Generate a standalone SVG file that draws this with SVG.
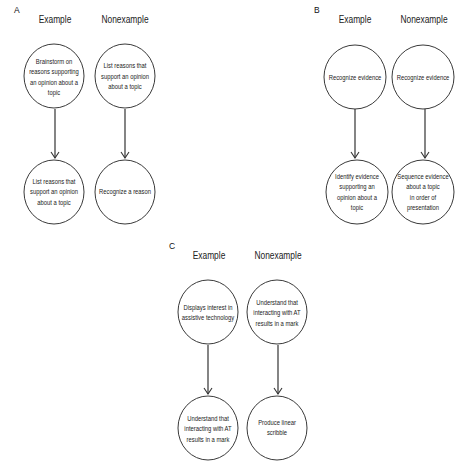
<svg xmlns="http://www.w3.org/2000/svg" width="474" height="474" viewBox="0 0 474 474">
<defs>
<style>
.bg{fill:#fff}
.node ellipse{fill:#fff;stroke:#3a3a3a;stroke-width:1}
.node text{font-family:"Liberation Sans",Arial,sans-serif;font-size:7.5px;fill:#222;text-anchor:middle}
.hdr{font-family:"Liberation Sans",Arial,sans-serif;font-size:10.5px;fill:#222;text-anchor:middle}
.lbl{font-family:"Liberation Sans",Arial,sans-serif;font-size:8.5px;fill:#111}
.conn line{stroke:#333;stroke-width:1.2}
.conn path{fill:none;stroke:#333;stroke-width:1.1}
</style>
</defs>
<rect class="bg" x="0" y="0" width="474" height="474"/>

<!-- Panel labels and headers -->
<g id="panel-labels">
<text class="lbl" x="14" y="12.5">A</text>
<text class="lbl" x="314" y="12.5">B</text>
<text class="lbl" x="169" y="248.5">C</text>
<text class="hdr" transform="translate(55 23) scale(0.8 1)">Example</text>
<text class="hdr" transform="translate(125 23) scale(0.8 1)">Nonexample</text>
<text class="hdr" transform="translate(355 23) scale(0.8 1)">Example</text>
<text class="hdr" transform="translate(424 23) scale(0.8 1)">Nonexample</text>
<text class="hdr" transform="translate(209 259) scale(0.8 1)">Example</text>
<text class="hdr" transform="translate(278 259) scale(0.8 1)">Nonexample</text>
</g>

<!-- Connectors -->
<g id="connectors" class="conn">
<line x1="55" y1="109" x2="55" y2="158"/><path d="M51 152 L55 158 L59 152"/>
<line x1="125" y1="109" x2="125" y2="158"/><path d="M121 152 L125 158 L129 152"/>
<line x1="355" y1="109" x2="355" y2="158"/><path d="M351 152 L355 158 L359 152"/>
<line x1="425" y1="109" x2="425" y2="158"/><path d="M421 152 L425 158 L429 152"/>
<line x1="208" y1="345" x2="208" y2="394"/><path d="M204 388 L208 394 L212 388"/>
<line x1="278" y1="345" x2="278" y2="394"/><path d="M274 388 L278 394 L282 388"/>
</g>

<!-- Panel A -->
<g id="a-ex-1" class="node">
<ellipse cx="54" cy="76" rx="30" ry="32"/>
<g transform="translate(54 0) scale(0.78 1)">
<text x="0" y="64">Brainstorm on</text>
<text x="0" y="74.3">reasons supporting</text>
<text x="0" y="84.6">an opinion about a</text>
<text x="0" y="94.9">topic</text>
</g>
</g>
<g id="a-non-1" class="node">
<ellipse cx="125" cy="76" rx="30" ry="32"/>
<g transform="translate(125 0) scale(0.78 1)">
<text x="0" y="68.5">List reasons that</text>
<text x="0" y="78.8">support an opinion</text>
<text x="0" y="89.1">about a topic</text>
</g>
</g>
<g id="a-ex-2" class="node">
<ellipse cx="54" cy="192" rx="30" ry="32"/>
<g transform="translate(54 0) scale(0.78 1)">
<text x="0" y="184">List reasons that</text>
<text x="0" y="194.3">support an opinion</text>
<text x="0" y="204.6">about a topic</text>
</g>
</g>
<g id="a-non-2" class="node">
<ellipse cx="125" cy="192" rx="30" ry="32"/>
<g transform="translate(125 0) scale(0.78 1)">
<text x="0" y="194.5">Recognize a reason</text>
</g>
</g>

<!-- Panel B -->
<g id="b-ex-1" class="node">
<ellipse cx="355" cy="77" rx="31" ry="32"/>
<g transform="translate(355 0) scale(0.78 1)">
<text x="0" y="80">Recognize evidence</text>
</g>
</g>
<g id="b-non-1" class="node">
<ellipse cx="423" cy="77" rx="31" ry="32"/>
<g transform="translate(423 0) scale(0.78 1)">
<text x="0" y="80">Recognize evidence</text>
</g>
</g>
<g id="b-ex-2" class="node">
<ellipse cx="357" cy="192" rx="31" ry="32"/>
<g transform="translate(357 0) scale(0.78 1)">
<text x="0" y="179">Identify evidence</text>
<text x="0" y="189.3">supporting an</text>
<text x="0" y="199.6">opinion about a</text>
<text x="0" y="209.9">topic</text>
</g>
</g>
<g id="b-non-2" class="node">
<ellipse cx="423" cy="192" rx="31" ry="32"/>
<g transform="translate(423 0) scale(0.78 1)">
<text x="0" y="179">Sequence evidence</text>
<text x="0" y="189.3">about a topic</text>
<text x="0" y="199.6">in order of</text>
<text x="0" y="209.9">presentation</text>
</g>
</g>

<!-- Panel C -->
<g id="c-ex-1" class="node">
<ellipse cx="208" cy="312" rx="30" ry="32"/>
<g transform="translate(208 0) scale(0.78 1)">
<text x="0" y="310">Displays interest in</text>
<text x="0" y="320.3">assistive technology</text>
</g>
</g>
<g id="c-non-1" class="node">
<ellipse cx="277" cy="312" rx="30" ry="32"/>
<g transform="translate(277 0) scale(0.78 1)">
<text x="0" y="305">Understand that</text>
<text x="0" y="315.3">interacting with AT</text>
<text x="0" y="325.6">results in a mark</text>
</g>
</g>
<g id="c-ex-2" class="node">
<ellipse cx="208" cy="428" rx="30" ry="32"/>
<g transform="translate(208 0) scale(0.78 1)">
<text x="0" y="421">Understand that</text>
<text x="0" y="431.3">interacting with AT</text>
<text x="0" y="441.6">results in a mark</text>
</g>
</g>
<g id="c-non-2" class="node">
<ellipse cx="277" cy="428" rx="30" ry="32"/>
<g transform="translate(277 0) scale(0.78 1)">
<text x="0" y="425">Produce linear</text>
<text x="0" y="435.3">scribble</text>
</g>
</g>
</svg>
